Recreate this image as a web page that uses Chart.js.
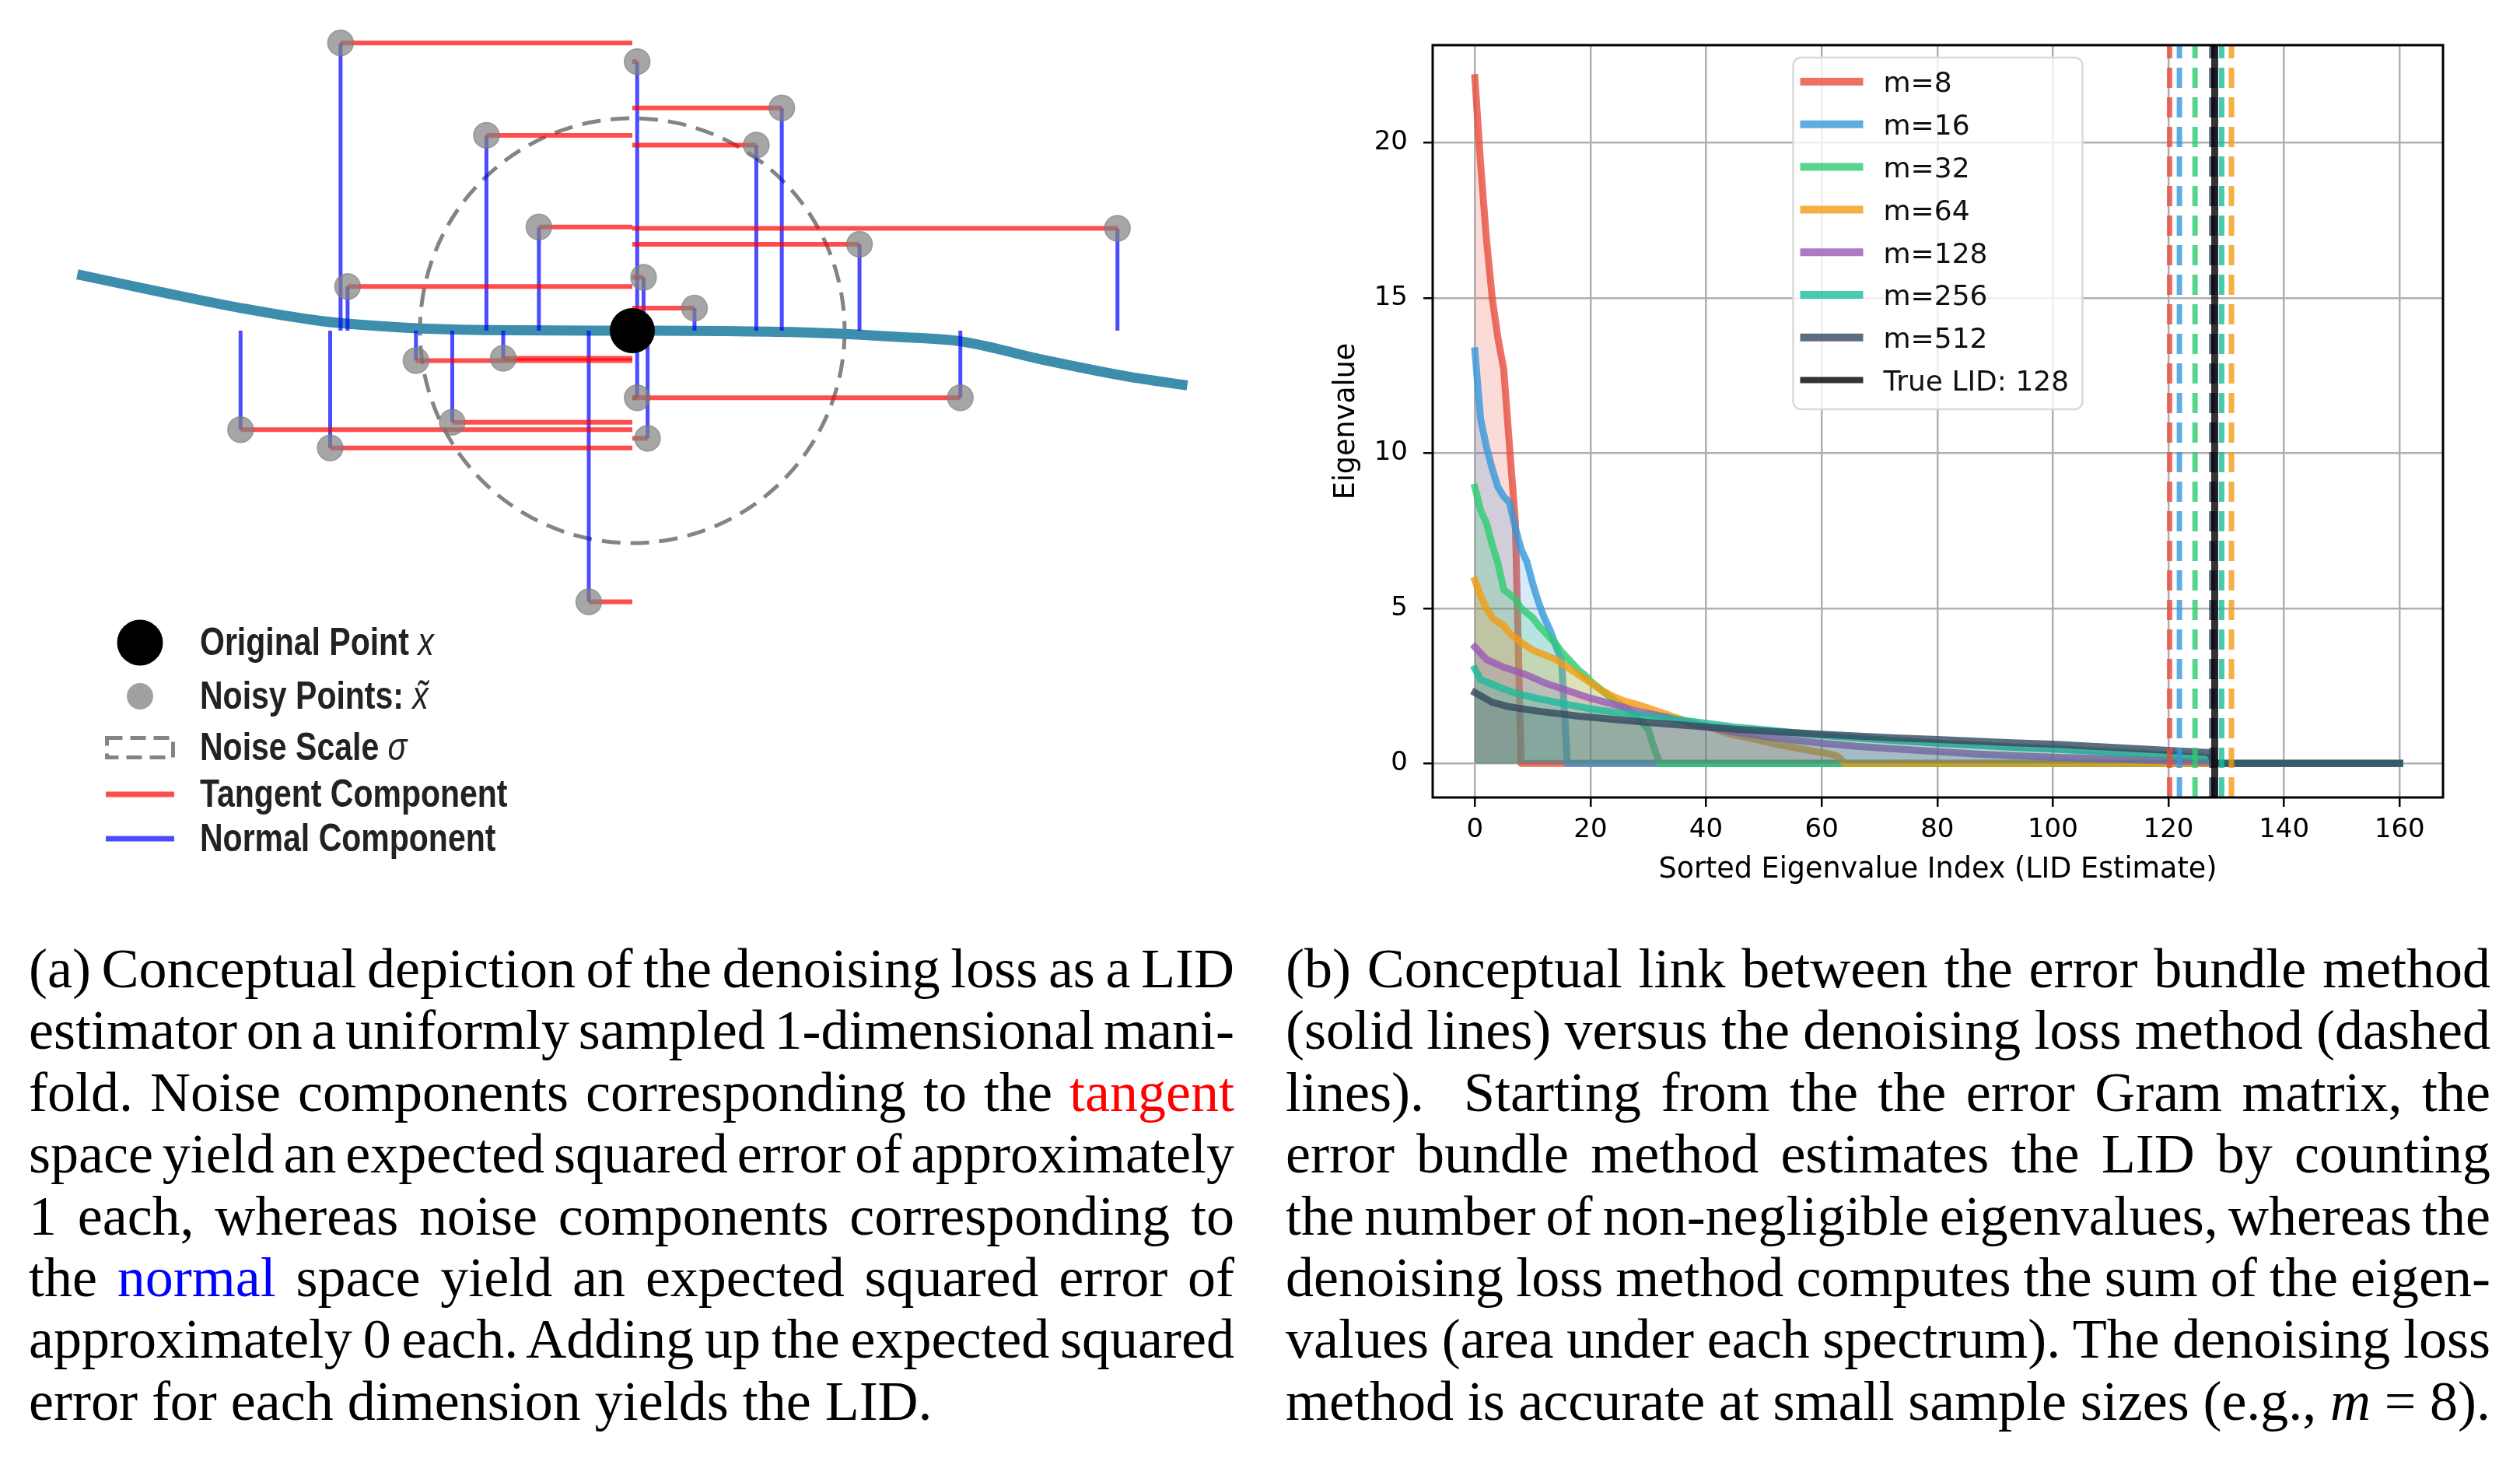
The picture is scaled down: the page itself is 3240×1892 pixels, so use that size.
<!DOCTYPE html>
<html lang="en">

<head>
    <meta charset="UTF-8">
    <title>Denoising loss and LID</title>
    <style>
        body { margin: 0; width: 3240px; height: 1892px; background: #fff; position: relative; overflow: hidden; }
        canvas { position: absolute; }
        #diagram { left: 0; top: 0; }
        #spectrum { left: 1680px; top: 0; }
        .row { position: absolute; left: 0; height: 60px; width: 900px; }
        .icon { position: absolute; left: 180px; top: 30px; transform: translate(-50%, -50%); display: block; }
        .txt { position: absolute; left: 257px; top: 0; height: 60px; line-height: 60px; font: bold 50px "Liberation Sans", Arial, sans-serif;
               color: #222; white-space: nowrap; transform: scaleX(0.82); transform-origin: 0 50%; }
        .cap { position: absolute; top: 1206px; font-family: "Liberation Serif", "Times New Roman", serif; font-size: 72px; line-height: 79.4px; color: #000; }
        .cap div { text-align: justify; text-align-last: justify; word-spacing: -10px; }
        .cap div.last { text-align-last: left; word-spacing: 0; }
    </style>
</head>

<body>
    <canvas id="diagram" width="1600" height="1150"></canvas>
    <canvas id="spectrum" width="1520" height="1160"></canvas>

    <!-- legend of panel (a) -->
    <div class="row" style="top:796px">
        <div class="icon" style="width:59px;height:59px;border-radius:50%;background:#000"></div>
        <div class="txt">Original Point <i style="font-weight:normal">x</i></div>
    </div>
    <div class="row" style="top:865px">
        <div class="icon" style="width:34px;height:34px;border-radius:50%;background:rgba(128,128,128,0.75)"></div>
        <div class="txt">Noisy Points: <i style="font-weight:normal">x̃</i></div>
    </div>
    <div class="row" style="top:931px">
        <svg class="icon" width="90" height="30" viewBox="0 0 90 30">
            <rect x="2.5" y="2.5" width="85" height="25" fill="none" stroke="rgba(110,110,110,0.85)" stroke-width="5" stroke-dasharray="20 10"/>
        </svg>
        <div class="txt">Noise Scale <i style="font-weight:normal">σ</i></div>
    </div>
    <div class="row" style="top:991px">
        <div class="icon" style="width:88px;height:7px;background:rgba(255,0,0,0.7)"></div>
        <div class="txt">Tangent Component</div>
    </div>
    <div class="row" style="top:1048px">
        <div class="icon" style="width:88px;height:7px;background:rgba(0,0,255,0.7)"></div>
        <div class="txt">Normal Component</div>
    </div>

    <div class="cap" style="left:37px;width:1550px">
        <div>(a) Conceptual depiction of the denoising loss as a LID</div>
        <div>estimator on a uniformly sampled 1-dimensional mani-</div>
        <div>fold. Noise components corresponding to the <span style="color:#f00">tangent</span></div>
        <div>space yield an expected squared error of approximately</div>
        <div>1 each, whereas noise components corresponding to</div>
        <div>the <span style="color:#00f">normal</span> space yield an expected squared error of</div>
        <div>approximately 0 each. Adding up the expected squared</div>
        <div class="last">error for each dimension yields the LID.</div>
    </div>
    <div class="cap" style="left:1653px;width:1549px">
        <div>(b) Conceptual link between the error bundle method</div>
        <div>(solid lines) versus the denoising loss method (dashed</div>
        <div>lines).&nbsp; Starting from the the error Gram matrix, the</div>
        <div>error bundle method estimates the LID by counting</div>
        <div>the number of non-negligible eigenvalues, whereas the</div>
        <div>denoising loss method computes the sum of the eigen-</div>
        <div>values (area under each spectrum). The denoising loss</div>
        <div>method is accurate at small sample sizes (e.g., <i>m</i> = 8).</div>
    </div>

    <script src="https://cdn.jsdelivr.net/npm/chart.js"></script>
    <script>
        // panel (a): units of the noise scale sigma, origin at the original point
        const manifoldX = [-2.614, -2.22, -1.841, -1.462, -1.083, -0.705, 0, 0.432, 0.811, 1.265, 1.545, 1.947, 2.326, 2.614];
        const manifoldY = [0.265, 0.182, 0.106, 0.045, 0.015, 0.003, 0, -0.002, -0.008, -0.030, -0.050, -0.140, -0.215, -0.258];
        const noisyX = [-1.374, 0.023, 0.704, -0.687, 0.584, -0.440, 2.285, 1.070, 0.053, -1.341,
                        0.293, -1.019, -0.608, 0.023, 1.545, -0.848, -1.845, -1.423, 0.072, -0.205];
        const noisyY = [1.355, 1.267, 1.049, 0.920, 0.874, 0.488, 0.482, 0.407, 0.251, 0.208,
                        0.106, -0.141, -0.130, -0.316, -0.316, -0.431, -0.466, -0.552, -0.507, -1.277];
        const originX = [0];
        const originY = [0];
        const sigma = 1;

        // panel (b): sorted eigenvalue spectra per sample size
        const sampleSizes = ['m=8', 'm=16', 'm=32', 'm=64', 'm=128', 'm=256', 'm=512'];
        const m8Index = [0, 1, 2, 3, 4, 5, 6, 7, 8, 160];
        const m8Eig = [22.1, 19.3, 16.9, 15.0, 13.7, 12.7, 10.2, 7.8, 0, 0];
        const m16Index = [0, 1, 2, 3, 4, 5, 6, 7, 8, 9, 10, 11, 12, 13, 14, 15, 16, 160];
        const m16Eig = [13.3, 11.1, 10.2, 9.5, 8.9, 8.6, 8.4, 7.6, 6.9, 6.5, 5.8, 5.2, 4.7, 4.3, 3.8, 3.3, 0, 0];
        const m32Index = [0, 1, 2, 3, 4, 5, 6, 7, 8, 9, 10, 11, 12, 13, 14, 15, 16, 17, 18, 19, 20,
                          21, 22, 23, 24, 25, 26, 27, 28, 29, 30, 31, 32, 160];
        const m32Eig = [8.9, 8.15, 7.75, 7.05, 6.45, 5.6, 5.45, 5.3, 5.0, 4.85, 4.7, 4.45, 4.25, 4.05, 3.85, 3.6, 3.4,
                        3.2, 3.0, 2.85, 2.65, 2.5, 2.35, 2.2, 2.05, 1.9, 1.8, 1.65, 1.5, 1.3, 1.1, 0.5, 0, 0];
        const m64Index = [0, 1, 2, 3, 4, 5, 6, 8, 10, 12, 14, 16, 18, 20, 22, 24, 26, 28, 30, 32,
                          36, 40, 44, 48, 52, 56, 60, 62, 63, 64, 160];
        const m64Eig = [5.9, 5.4, 5.0, 4.7, 4.55, 4.45, 4.2, 3.9, 3.65, 3.5, 3.35, 3.1, 2.85, 2.6, 2.35, 2.15, 2.0, 1.9, 1.78, 1.65,
                        1.4, 1.2, 0.95, 0.8, 0.62, 0.48, 0.35, 0.28, 0.2, 0, 0];
        const m128Index = [0, 2, 5, 9, 12, 16, 20, 25, 28, 33, 38, 45, 52, 59, 66, 73, 80, 87, 93, 100, 110, 120, 127, 128, 160];
        const m128Eig = [3.75, 3.35, 3.1, 2.85, 2.6, 2.35, 2.1, 1.85, 1.68, 1.5, 1.26, 1.0, 0.82, 0.67, 0.55, 0.46, 0.38, 0.3, 0.25, 0.2,
                         0.14, 0.08, 0.04, 0, 0];
        const m256Index = [0, 1, 4, 7, 11, 15, 20, 25, 31, 38, 45, 52, 59, 66, 73, 80, 87, 93, 100, 110, 120, 127, 128, 160];
        const m256Eig = [3.05, 2.7, 2.47, 2.26, 2.09, 1.93, 1.76, 1.63, 1.5, 1.34, 1.17, 1.05, 0.92, 0.82, 0.73, 0.65, 0.58, 0.52, 0.46,
                         0.36, 0.26, 0.18, 0, 0];
        const m512Index = [0, 3, 6, 11, 18, 25, 31, 38, 45, 52, 59, 66, 73, 80, 87, 93, 100, 110, 120, 127, 128, 160];
        const m512Eig = [2.28, 1.97, 1.82, 1.68, 1.52, 1.4, 1.3, 1.2, 1.1, 1.02, 0.95, 0.88, 0.82, 0.77, 0.71, 0.66, 0.62, 0.52, 0.42, 0.35, 0, 0];
        const lidEstimates = [120.2, 121.9, 124.6, 130.9, 128.0, 129.2, 127.5];
        const trueLid = 128;
        const xTicks = [0, 20, 40, 60, 80, 100, 120, 140, 160];
        const yTicks = [0, 5, 10, 15, 20];

        const seriesIndex = [m8Index, m16Index, m32Index, m64Index, m128Index, m256Index, m512Index];
        const seriesEig = [m8Eig, m16Eig, m32Eig, m64Eig, m128Eig, m256Eig, m512Eig];
        const rgb = ['231,76,60', '52,152,219', '46,204,113', '243,156,18', '155,89,182', '26,188,156', '52,73,94'];
        const yMin = -1.1, yMax = 23.15;

        Chart.defaults.font.family = 'DejaVu Sans';
        Chart.defaults.color = '#000';

        // ---------- panel (a) ----------
        const noiseCircle = {
            id: 'noiseCircle',
            beforeDatasetsDraw(chart) {
                const { ctx, scales: { x, y } } = chart;
                const cx = x.getPixelForValue(originX[0]);
                const cy = y.getPixelForValue(originY[0]);
                const r = x.getPixelForValue(originX[0] + sigma) - cx;
                ctx.save();
                ctx.beginPath();
                ctx.arc(cx, cy, r, 0, 2 * Math.PI);
                ctx.setLineDash([24, 13]);
                ctx.lineWidth = 5;
                ctx.strokeStyle = 'rgba(110,110,110,0.85)';
                ctx.stroke();
                ctx.restore();
            }
        };

        const diagramSets = [{
            data: manifoldX.map((x, i) => ({ x, y: manifoldY[i] })),
            borderColor: '#3d8dad',
            borderWidth: 13,
            pointRadius: 0,
            cubicInterpolationMode: 'monotone',
            order: 9
        }];
        noisyX.forEach((x, i) => {
            const y = noisyY[i];
            diagramSets.push({
                data: [{ x, y }, { x: originX[0], y }],
                borderColor: 'rgba(255,0,0,0.7)', borderWidth: 6, pointRadius: 0, order: 3
            });
            diagramSets.push({
                data: [{ x, y }, { x, y: originY[0] }],
                borderColor: 'rgba(0,0,255,0.7)', borderWidth: 5, pointRadius: 0, order: 4
            });
        });
        diagramSets.push({
            data: noisyX.map((x, i) => ({ x, y: noisyY[i] })),
            showLine: false,
            pointRadius: 16.5,
            pointBackgroundColor: 'rgba(128,128,128,0.7)',
            pointBorderColor: 'rgba(120,120,120,0.6)',
            pointBorderWidth: 1.5,
            order: 1
        });
        diagramSets.push({
            data: originX.map((x, i) => ({ x, y: originY[i] })),
            showLine: false,
            pointRadius: 29,
            pointBackgroundColor: '#000',
            pointBorderWidth: 0,
            order: 0
        });

        new Chart(document.getElementById('diagram'), {
            type: 'line',
            data: { datasets: diagramSets },
            options: {
                responsive: false,
                animation: false,
                layout: { padding: 0, autoPadding: false },
                plugins: { legend: { display: false }, tooltip: { enabled: false } },
                scales: {
                    x: { type: 'linear', display: false, min: -2.978, max: 2.883 },
                    y: { type: 'linear', display: false, min: -2.656, max: 1.557 }
                }
            },
            plugins: [noiseCircle]
        });

        // ---------- panel (b) ----------
        const datasets = [];
        sampleSizes.forEach((label, i) => {
            datasets.push({
                label: label,
                data: seriesIndex[i].map((x, k) => ({ x, y: seriesEig[i][k] })),
                borderColor: `rgba(${rgb[i]},0.8)`,
                backgroundColor: `rgba(${rgb[i]},0.2)`,
                borderWidth: 9,
                borderJoinStyle: 'round',
                borderCapStyle: 'square',
                fill: 'origin',
                pointRadius: 0,
                order: 30 - i,
                inLegend: true
            });
        });
        sampleSizes.forEach((label, i) => {
            datasets.push({
                label: label + ' estimate',
                data: [{ x: lidEstimates[i], y: yMin }, { x: lidEstimates[i], y: yMax }],
                borderColor: `rgba(${rgb[i]},0.8)`,
                borderWidth: 7,
                borderDash: [26, 12],
                pointRadius: 0,
                fill: false,
                order: 15 - i
            });
        });
        datasets.push({
            label: 'True LID: ' + trueLid,
            data: [{ x: trueLid, y: yMin }, { x: trueLid, y: yMax }],
            borderColor: 'rgba(0,0,0,0.8)',
            borderWidth: 9,
            pointRadius: 0,
            fill: false,
            order: 0,
            inLegend: true
        });

        const frameAndLegend = {
            id: 'frameAndLegend',
            afterDatasetsDraw(chart) {
                const { ctx, chartArea: ca } = chart;
                ctx.save();
                ctx.strokeStyle = '#000';
                ctx.lineWidth = 3;
                ctx.strokeRect(ca.left, ca.top, ca.right - ca.left, ca.bottom - ca.top);

                // legend box, upper centre
                const items = chart.data.datasets.filter(d => d.inLegend);
                const w = 372, h = 452, rowH = 54.8;
                const x0 = (ca.left + ca.right) / 2 - w / 2;
                const y0 = ca.top + 16;
                ctx.beginPath();
                ctx.roundRect(x0, y0, w, h, 10);
                ctx.fillStyle = 'rgba(255,255,255,0.8)';
                ctx.fill();
                ctx.strokeStyle = '#d9d9d9';
                ctx.lineWidth = 2.5;
                ctx.stroke();
                ctx.font = '36px "DejaVu Sans"';
                ctx.textBaseline = 'middle';
                items.forEach((d, i) => {
                    const cy = y0 + 31 + i * rowH;
                    ctx.beginPath();
                    ctx.moveTo(x0 + 9, cy);
                    ctx.lineTo(x0 + 90, cy);
                    ctx.strokeStyle = d.borderColor;
                    ctx.lineWidth = i === items.length - 1 ? 8 : 10;
                    ctx.stroke();
                    ctx.fillStyle = '#111';
                    ctx.fillText(d.label, x0 + 116, cy + 4);
                });
                ctx.restore();
            }
        };

        new Chart(document.getElementById('spectrum'), {
            type: 'line',
            data: { datasets: datasets },
            options: {
                responsive: false,
                animation: false,
                layout: { padding: { left: 0, right: 59, top: 58, bottom: 0 } },
                plugins: { legend: { display: false }, tooltip: { enabled: false } },
                scales: {
                    x: {
                        type: 'linear',
                        min: -7.3,
                        max: 167.5,
                        afterFit: (s) => { s.height = 135; },
                        afterBuildTicks: (s) => { s.ticks = xTicks.map(v => ({ value: v })); },
                        grid: { color: '#b0b0b0', lineWidth: 2.5, tickLength: 12, tickColor: '#000', tickWidth: 2.5 },
                        border: { display: false },
                        ticks: { font: { size: 34 }, padding: 10, maxRotation: 0 },
                        title: {
                            display: true,
                            text: 'Sorted Eigenvalue Index (LID Estimate)',
                            font: { size: 36.5 },
                            padding: { top: 0, bottom: 20 }
                        }
                    },
                    y: {
                        min: yMin,
                        max: yMax,
                        afterFit: (s) => { s.width = 162; },
                        afterBuildTicks: (s) => { s.ticks = yTicks.map(v => ({ value: v })); },
                        grid: { color: '#b0b0b0', lineWidth: 2.5, tickLength: 12, tickColor: '#000', tickWidth: 2.5 },
                        border: { display: false },
                        ticks: { font: { size: 34 }, padding: 20 },
                        title: {
                            display: true,
                            text: 'Eigenvalue',
                            font: { size: 36.5 },
                            padding: { top: 30, bottom: 0 }
                        }
                    }
                }
            },
            plugins: [frameAndLegend]
        });
    </script>
</body>

</html>
